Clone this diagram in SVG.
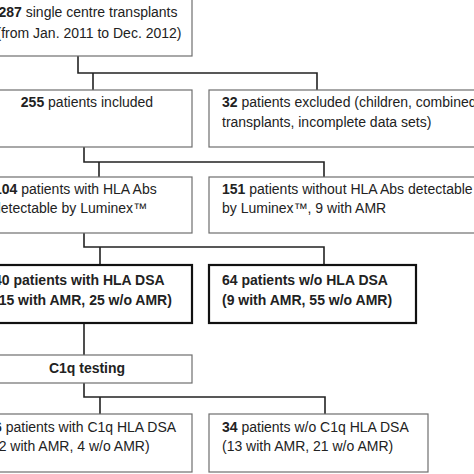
<svg xmlns="http://www.w3.org/2000/svg" width="474" height="474" viewBox="0 0 474 474">
<style>
.box{fill:#fff;stroke:#6e6e6e;stroke-width:1.2}
.bold{fill:#fff;stroke:#111;stroke-width:2.2}
.t{font-family:"Liberation Sans",Arial,sans-serif;font-size:14px;fill:#222}
.b{font-weight:bold}
.c{fill:none;stroke:#222;stroke-width:1.6}
</style>
<rect width="474" height="474" fill="#fff"/>
<g id="connectors">
<path class="c" d="M78 56V73H317V90M93 73V90"/>
<path class="c" d="M84 147V162H324V177M99 162V177"/>
<path class="c" d="M84 233V247H324V265M100 247V265"/>
<path class="c" d="M84 323V355"/>
<path class="c" d="M84 383V397H325V414M100 397V414"/>
</g>
<g id="n_total">
<rect class="box" x="-19" y="-1" width="211" height="57"/>
<text class="t" x="88" y="17" text-anchor="middle"><tspan class="b">287</tspan> single centre transplants</text>
<text class="t" x="89" y="38" text-anchor="middle">(from Jan. 2011 to Dec. 2012)</text>
</g>
<g id="n_included">
<rect class="box" x="-19" y="90" width="211" height="57"/>
<text class="t" x="87" y="107" text-anchor="middle"><tspan class="b">255</tspan> patients included</text>
</g>
<g id="n_excluded">
<rect class="box" x="209" y="90" width="280" height="57"/>
<text class="t" x="222" y="107"><tspan class="b">32</tspan> patients excluded (children, combined</text>
<text class="t" x="222" y="127">transplants, incomplete data sets)</text>
</g>
<g id="n_abs">
<rect class="box" x="-19" y="177" width="211" height="56"/>
<text class="t" x="-6" y="194"><tspan class="b">104</tspan> patients with HLA Abs</text>
<text class="t" x="-7" y="213">detectable by Luminex™</text>
</g>
<g id="n_noabs">
<rect class="box" x="209" y="177" width="280" height="56"/>
<text class="t" x="222" y="194"><tspan class="b">151</tspan> patients without HLA Abs detectable</text>
<text class="t" x="222" y="213">by Luminex™, 9 with AMR</text>
</g>
<g id="n_dsa">
<rect class="bold" x="-19" y="265" width="211" height="58"/>
<text class="t b" x="-6" y="285">40 patients with HLA DSA</text>
<text class="t b" x="-6" y="305">(15 with AMR, 25 w/o AMR)</text>
</g>
<g id="n_nodsa">
<rect class="bold" x="209" y="265" width="207" height="58"/>
<text class="t b" x="222" y="285">64 patients w/o HLA DSA</text>
<text class="t b" x="222" y="305">(9 with AMR, 55 w/o AMR)</text>
</g>
<g id="n_c1q">
<rect class="box" x="-19" y="355" width="211" height="28"/>
<text class="t b" x="87" y="373" text-anchor="middle">C1q testing</text>
</g>
<g id="n_c1qpos">
<rect class="box" x="-19" y="414" width="211" height="58"/>
<text class="t" x="-6" y="432"><tspan class="b">6</tspan> patients with C1q HLA DSA</text>
<text class="t" x="-6" y="451">(2 with AMR, 4 w/o AMR)</text>
</g>
<g id="n_c1qneg">
<rect class="box" x="209" y="414" width="219" height="58"/>
<text class="t" x="222" y="432"><tspan class="b">34</tspan> patients w/o C1q HLA DSA</text>
<text class="t" x="222" y="451">(13 with AMR, 21 w/o AMR)</text>
</g>
</svg>
